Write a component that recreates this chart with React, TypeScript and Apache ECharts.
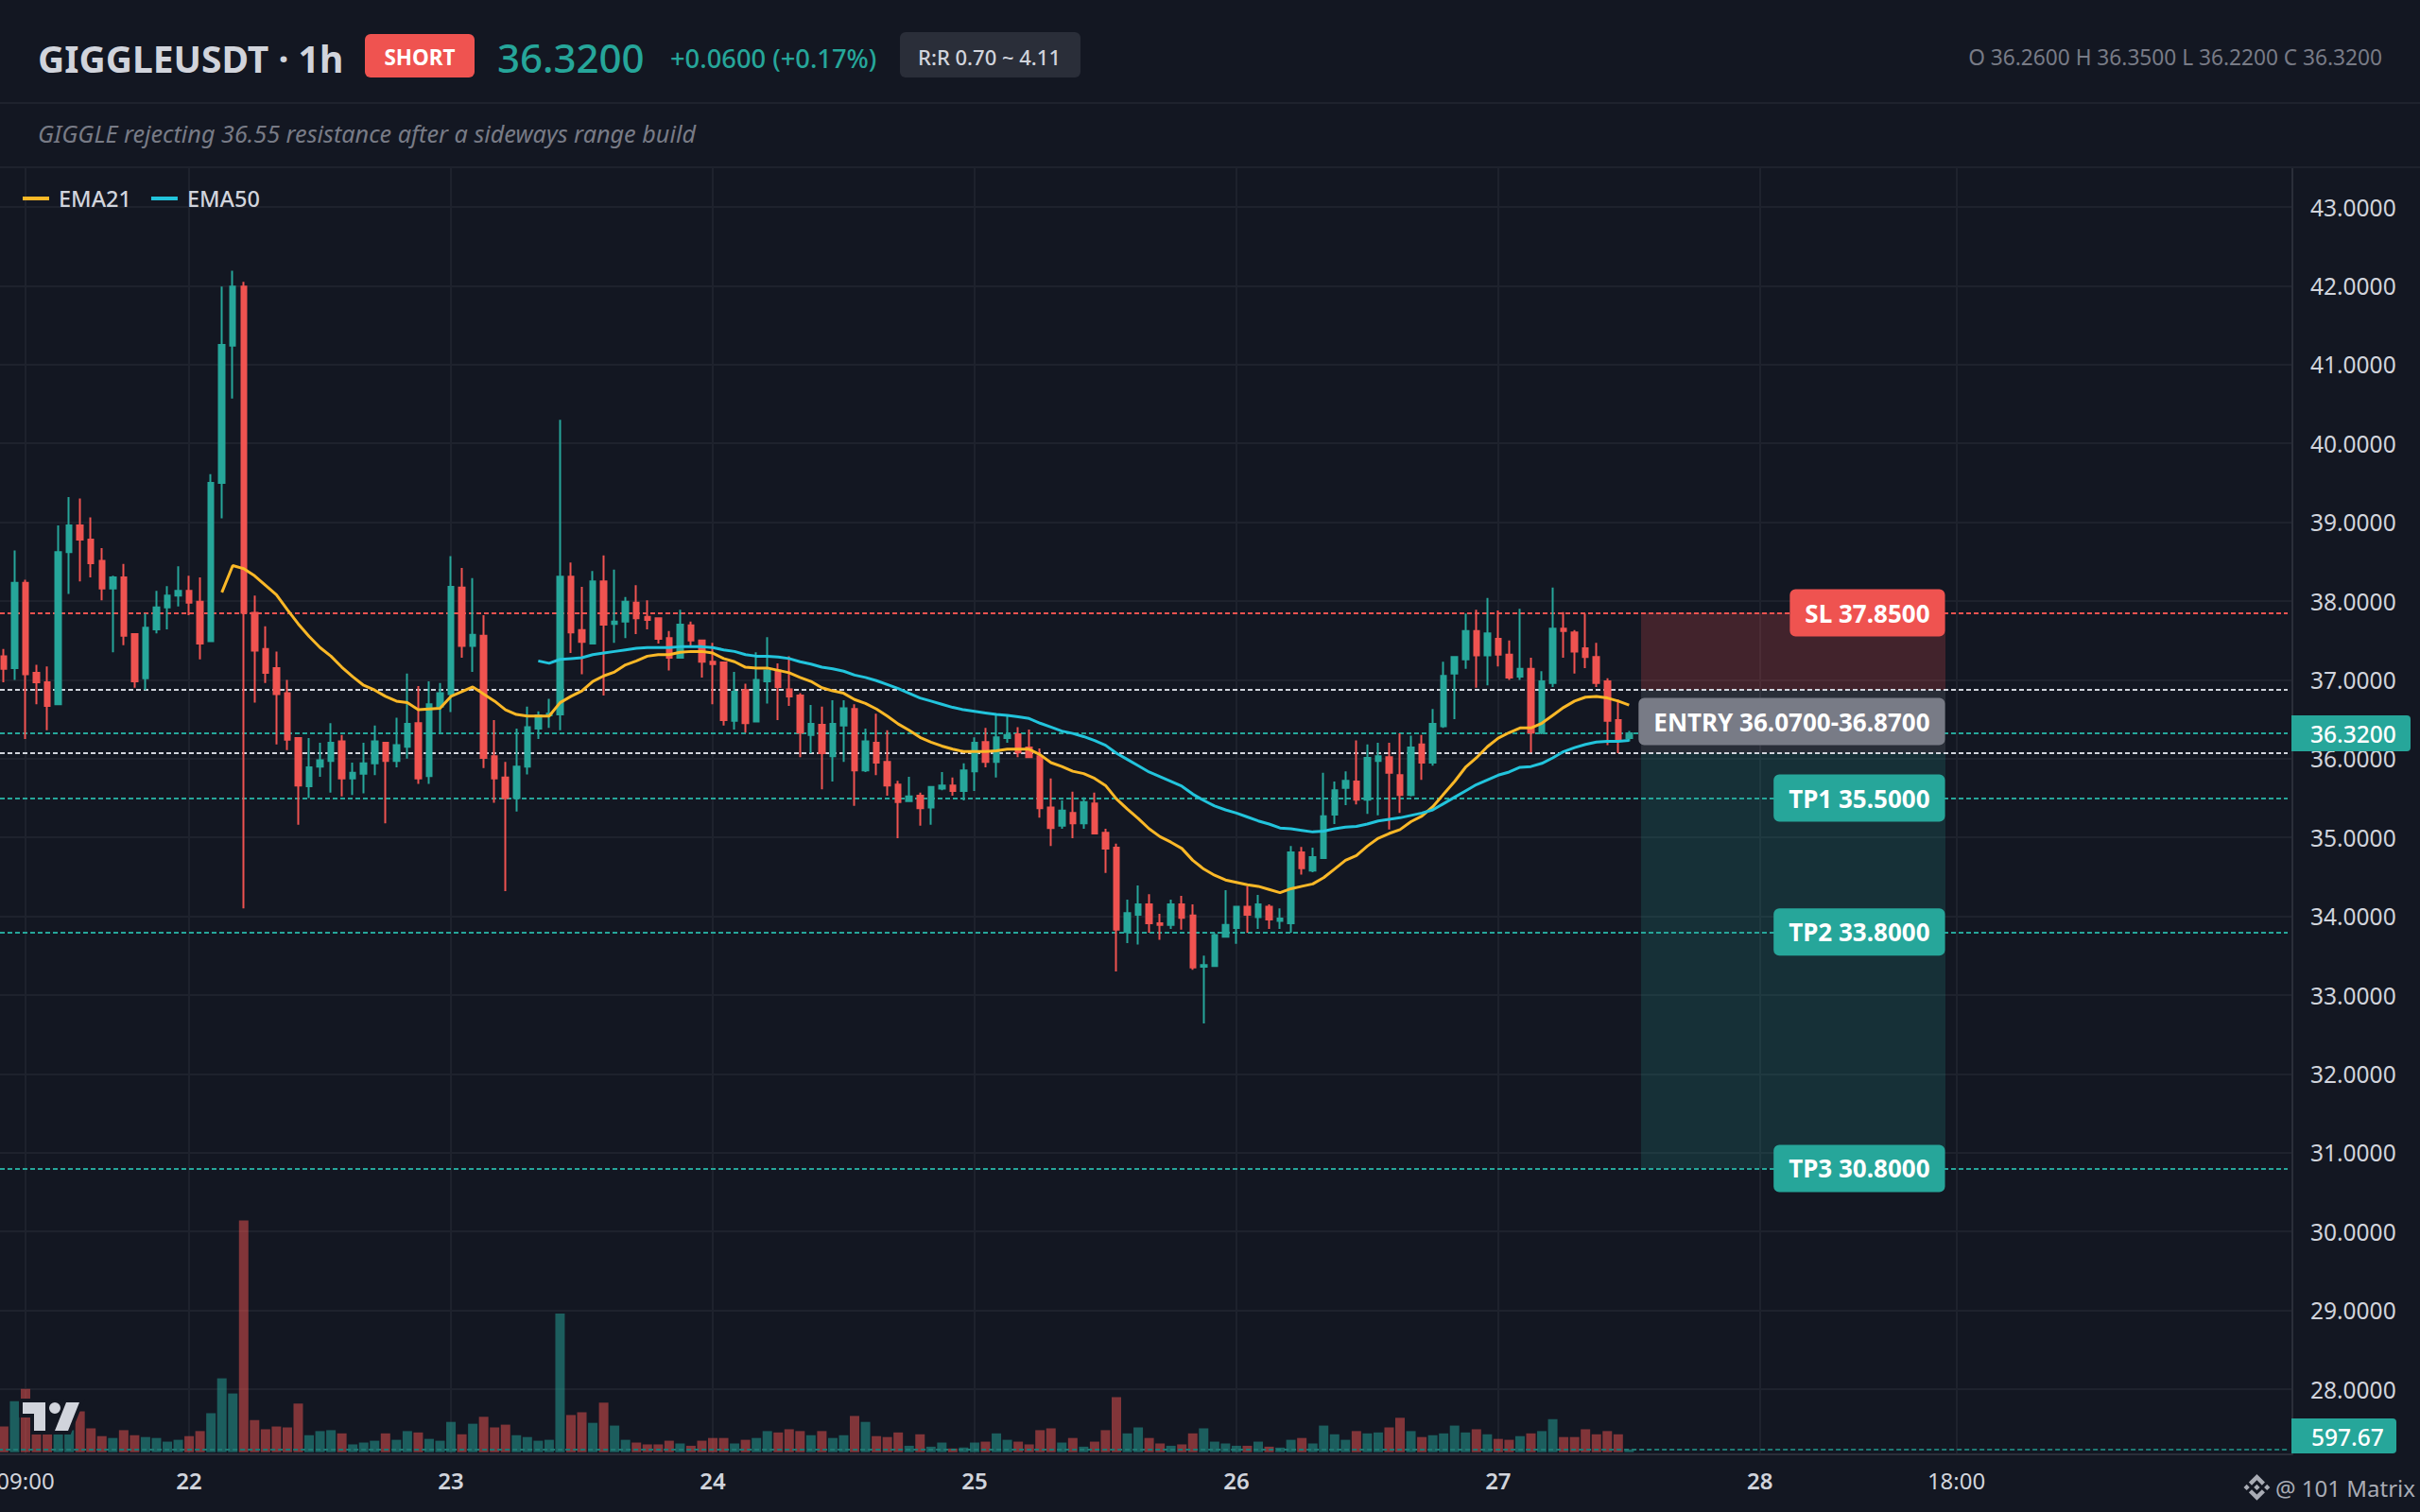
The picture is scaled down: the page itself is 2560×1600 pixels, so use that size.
import React, { useEffect, useRef } from "react";
import * as echarts from "echarts";

const opens = [
37.30,37.15,38.23,37.09,36.97,36.69,38.62,38.96,38.78,38.51,
38.16,38.30,37.58,37.02,37.64,37.92,38.07,38.13,37.99,37.49,
39.50,41.24,41.99,37.85,37.39,37.15,36.83,36.26,35.65,35.90,
35.97,36.22,35.75,35.81,35.94,36.20,35.97,36.15,36.45,35.78,
36.66,36.82,38.17,37.43,37.56,36.03,35.76,35.50,35.90,36.38,
36.55,36.56,38.31,37.63,37.46,38.25,37.71,37.74,37.98,37.80,
37.78,37.53,37.28,37.69,37.50,37.23,37.22,36.48,36.87,36.47,
36.98,37.12,36.88,36.80,36.30,36.43,36.03,36.42,36.63,35.85,
36.20,35.96,35.67,35.46,35.53,35.38,35.62,35.66,35.59,35.84,
36.21,35.96,36.26,36.31,36.14,36.03,35.38,35.15,35.31,35.18,
35.43,35.06,34.87,33.80,34.02,34.15,33.91,33.89,34.15,34.01,
33.36,33.37,33.74,33.85,34.12,33.99,34.12,33.94,33.91,34.81,
34.58,34.74,35.29,35.63,35.71,35.48,35.97,36.02,35.79,35.54,
36.18,35.95,36.41,37.08,37.26,37.62,37.31,37.52,37.32,37.04,
37.14,36.33,36.96,37.65,37.60,37.40,37.29,36.98,36.49,36.26];
const closes = [
37.14,38.23,37.07,36.97,36.67,38.62,38.96,38.78,38.48,38.16,
38.30,37.56,36.98,37.66,37.92,38.07,38.13,37.98,37.46,39.50,
41.25,41.99,37.85,37.37,37.09,36.82,36.24,35.66,35.89,35.98,
36.20,35.75,35.82,35.94,36.22,35.97,36.17,36.44,35.75,36.69,
36.83,38.18,37.43,37.57,36.01,35.75,35.50,35.90,36.40,36.55,
36.57,38.31,37.60,37.48,38.25,37.70,37.74,37.99,37.78,37.76,
37.52,37.28,37.70,37.50,37.23,37.20,36.49,36.85,36.45,37.00,
37.12,36.91,36.79,36.33,36.44,36.07,36.44,36.64,35.85,36.22,
35.95,35.66,35.45,35.52,35.37,35.64,35.66,35.59,35.85,36.20,
35.96,36.27,36.30,36.08,36.02,35.37,35.12,35.34,35.18,35.45,
35.05,34.86,33.83,34.04,34.15,33.91,33.89,34.15,33.98,33.35,
33.38,33.76,33.89,34.12,34.02,34.15,33.96,33.97,34.81,34.61,
34.75,35.27,35.60,35.72,35.48,36.01,36.03,35.82,35.54,36.14,
35.95,36.44,37.05,37.29,37.62,37.31,37.59,37.32,37.03,37.14,
36.33,36.98,37.65,37.62,37.36,37.29,36.96,36.48,36.25,36.32];
const highs = [
37.39,38.64,38.27,37.19,37.17,38.96,39.32,39.30,39.06,38.67,
38.32,38.47,37.59,37.84,38.13,38.19,38.44,38.32,38.30,39.61,
41.99,42.19,42.05,38.07,37.68,37.36,37.00,36.26,36.26,36.20,
36.45,36.30,35.95,36.20,36.42,36.20,36.52,37.08,36.92,36.98,
36.96,38.57,38.42,38.29,37.82,36.49,35.96,36.38,36.66,36.60,
36.76,40.30,38.49,38.18,38.38,38.58,38.40,38.05,38.20,38.01,
37.79,37.62,37.89,37.74,37.51,37.47,37.23,37.10,36.95,37.35,
37.54,37.21,37.30,36.83,36.68,36.66,36.74,36.74,36.69,36.38,
36.57,36.36,35.72,35.77,35.57,35.64,35.83,35.76,35.94,36.27,
36.39,36.55,36.55,36.40,36.37,36.13,35.75,35.47,35.58,35.51,
35.57,35.11,34.92,34.21,34.39,34.28,34.03,34.21,34.26,34.15,
33.50,33.79,34.33,34.13,34.38,34.27,34.15,34.10,34.89,34.88,
34.87,35.82,35.71,35.84,36.23,36.18,36.20,36.20,36.32,36.29,
36.30,36.63,37.23,37.29,37.84,37.89,38.04,37.88,37.50,37.90,
37.28,37.11,38.17,37.86,37.63,37.84,37.47,37.02,36.75,36.35];
const lows = [
36.97,37.00,36.25,36.69,36.36,36.68,38.09,38.25,38.30,38.01,
37.35,37.44,36.90,36.87,37.59,37.64,37.93,37.82,37.26,37.49,
39.05,40.57,34.10,36.71,36.96,36.18,36.11,35.16,35.50,35.77,
35.57,35.52,35.54,35.56,35.79,35.18,35.89,36.00,35.68,35.68,
36.32,36.59,37.28,37.10,35.88,35.44,34.32,35.33,35.80,36.25,
36.39,36.36,37.34,37.07,37.45,36.80,37.47,37.53,37.58,37.64,
37.46,37.12,37.28,37.42,37.03,36.69,36.42,36.37,36.33,36.47,
36.70,36.49,36.67,36.02,36.07,35.61,35.71,35.96,35.40,35.83,
35.79,35.53,34.99,35.45,35.15,35.16,35.60,35.53,35.47,35.59,
35.89,35.76,36.20,36.02,36.01,35.25,34.89,35.11,34.99,35.11,
35.05,34.55,33.30,33.66,33.64,33.79,33.70,33.84,33.83,33.32,
32.64,33.37,33.74,33.65,33.79,33.84,33.84,33.84,33.79,34.53,
34.56,34.74,35.17,35.41,35.42,35.30,35.28,35.10,35.31,35.52,
35.73,35.91,36.39,36.50,37.14,36.90,36.93,37.17,37.00,37.00,
36.08,36.31,36.91,37.28,37.08,37.15,36.91,36.17,36.07,36.22];
const volumes = [
5600,11100,13800,3900,3900,4200,4800,8900,5200,3500,
3100,4800,3700,3300,3100,2300,2700,3500,4600,8500,
16100,12800,50500,7000,5000,5600,5400,10600,3700,4600,
4800,4100,1700,2100,2500,4100,2700,4600,4300,2900,
2500,6600,3900,6200,7700,5400,6000,3700,3300,2500,
2700,30200,8100,8700,6400,10800,5800,2700,2100,1700,
1700,2500,1900,1400,2500,3100,3100,1900,2700,3100,
4600,4300,5000,4600,3700,4600,3100,3700,7900,6600,
3500,3300,4300,1400,3900,1200,2100,800,1000,2100,
2300,4100,2700,2300,1700,4800,5200,2100,3100,1200,
2300,4800,12000,4100,5400,3100,1900,1400,1700,4100,
5200,2300,1900,1400,1400,2300,1200,1000,2700,3100,
1900,5800,3900,2700,4600,4100,4300,5400,7500,4600,
3300,3700,4100,5800,4300,5000,3900,2900,2700,3500,
4100,4600,7200,3300,3300,5000,3900,4600,3900,597.67];

const ema21Start = 20;
const ema21 = [
38.11,38.45,38.41,38.32,38.20,38.08,37.89,37.71,37.55,37.41,
37.30,37.16,37.04,36.93,36.87,36.79,36.73,36.71,36.62,36.63,
36.64,36.79,36.85,36.91,36.82,36.73,36.62,36.56,36.54,36.54,
36.54,36.71,36.79,36.86,36.98,37.05,37.10,37.19,37.24,37.30,
37.32,37.32,37.35,37.36,37.36,37.34,37.27,37.23,37.16,37.15,
37.15,37.12,37.09,37.03,36.98,36.90,36.86,36.83,36.75,36.70,
36.63,36.54,36.44,36.36,36.27,36.21,36.16,36.12,36.09,36.09,
36.09,36.10,36.12,36.12,36.12,36.05,35.95,35.90,35.84,35.81,
35.75,35.66,35.49,35.36,35.24,35.11,35.01,34.94,34.86,34.71,
34.60,34.52,34.46,34.43,34.40,34.38,34.34,34.30,34.35,34.38,
34.41,34.49,34.60,34.71,34.77,34.89,34.99,35.05,35.10,35.20,
35.27,35.39,35.55,35.71,35.89,36.01,36.15,36.26,36.33,36.39,
36.39,36.45,36.55,36.65,36.73,36.78,36.79,36.77,36.73,36.68];
const ema50Start = 49;
const ema50 = [
37.24,37.21,37.26,37.27,37.28,37.32,37.34,37.36,37.38,37.40,37.41,
37.41,37.41,37.42,37.42,37.42,37.41,37.38,37.36,37.32,37.30,
37.30,37.29,37.27,37.23,37.20,37.16,37.14,37.11,37.06,37.03,
36.99,36.94,36.89,36.83,36.77,36.73,36.69,36.65,36.62,36.60,
36.58,36.56,36.55,36.53,36.51,36.45,36.40,36.35,36.32,36.28,
36.23,36.17,36.07,35.99,35.91,35.83,35.77,35.71,35.65,35.55,
35.47,35.40,35.35,35.31,35.26,35.21,35.17,35.12,35.11,35.09,
35.07,35.08,35.11,35.13,35.14,35.17,35.21,35.23,35.25,35.28,
35.31,35.35,35.43,35.51,35.59,35.67,35.73,35.79,35.83,35.89,
35.90,35.94,36.01,36.09,36.14,36.18,36.21,36.22,36.22,36.23];

const priceTicks = [28,29,30,31,32,33,34,35,36,37,38,39,40,41,42,43];
const timeTickValues = [2,17,41,65,89,113,137,161,179];
const timeTickLabels = ["09:00","22","23","24","25","26","27","28","18:00"];
const slPrice = 37.85;
const entryLow = 36.07;
const entryHigh = 36.87;
const lastPrice = 36.32;
const tp1 = 35.5;
const tp2 = 33.8;
const tp3 = 30.8;
const lastVolume = 597.67;
const zoneStart = 150.1;
const zoneEnd = 178;
const hourSlotCount = 210;

const BG = "#131722";
const UP = "#26a69a";
const DOWN = "#ef5350";
const TEXT = "#d1d4dc";
const MUTED = "#787b86";
const GRID = "#1e222d";
const AXIS = "#2a2e39";
const FONT = '"Noto Sans", sans-serif';

const PLOT_TOP = 177;
const PLOT_BOTTOM = 1538.5;
const PLOT_RIGHT = 2425;
const BAR_STEP = 11.54;
const BAR0 = 3.9;
const xMin = -BAR0 / BAR_STEP;
const xMax = (PLOT_RIGHT - BAR0) / BAR_STEP;
const xLineEnd = (2420 - BAR0) / BAR_STEP;
const pricePerPx = 1 / 83.4;
const yMax = 43 + (219 - PLOT_TOP) * pricePerPx;
const yMin = 28 - (PLOT_BOTTOM - 1470) * pricePerPx;

const TV_PATH = "M14 6H2v6h6v9h6V6Zm12 15h-7l6-15h7l-6 15Zm-7-9a3 3 0 1 0 0-6 3 3 0 0 0 0 6Z";
const BNB_PATH = "M38.73 53.2l24.59-24.58 24.6 24.6 14.3-14.31L63.32 0 24.41 38.9zM0 63.31l14.3-14.31 14.31 14.31-14.31 14.3zM38.73 73.41l24.59 24.59 24.6-24.6 14.31 14.29-38.9 38.91-38.91-38.88-.02-.02zM98 63.31l14.3-14.31 14.31 14.3-14.31 14.32zM77.83 63.3L63.32 48.78 52.59 59.51l-1.24 1.23-2.54 2.54 14.51 14.5 14.51-14.47z";
echarts.graphic.registerShape("tvLogo", echarts.graphic.extendPath(TV_PATH, {}) as any);
echarts.graphic.registerShape("bnbLogo", echarts.graphic.extendPath(BNB_PATH, {}) as any);

function hline(price: number, color: string) {
  return [
    { coord: [xMin, price], lineStyle: { color } },
    { coord: [xLineEnd, price], lineStyle: { color } },
  ];
}

function tradeLabel(name: string, price: number, color: string) {
  return {
    coord: [zoneEnd, price],
    symbol: "circle",
    symbolSize: 1,
    itemStyle: { color: "rgba(0,0,0,0)", opacity: 1 },
    label: {
      show: true,
      position: "left",
      distance: 0,
      formatter: name,
      color: "#ffffff",
      fontFamily: FONT,
      fontWeight: 700,
      fontSize: 26,
      lineHeight: 26,
      backgroundColor: color,
      borderRadius: 6,
      padding: [12, 16, 12, 16],
    },
  };
}

function txt(text: string, x: number, y: number, size: number, fill: string, weight: any = 400, extra: any = {}) {
  return {
    type: "text",
    z: 200,
    silent: true,
    style: {
      text,
      x,
      y,
      fill,
      fontFamily: FONT,
      fontSize: size,
      fontWeight: weight,
      textVerticalAlign: "middle",
      ...extra,
    },
  };
}

export default function App() {
  const ref = useRef<HTMLDivElement>(null);
  useEffect(() => {
    document.body.style.margin = "0";
    document.body.style.background = BG;
    const chart = echarts.init(ref.current!, undefined, { renderer: "svg" });
    const candleData = opens.map((o, i) => [o, closes[i], lows[i], highs[i]]);
    chart.setOption({
      animation: false,
      backgroundColor: BG,
      textStyle: { fontFamily: FONT },
      legend: {
        show: true,
        left: 24,
        top: 198,
        padding: 0,
        z: 50,
        icon: "rect",
        itemWidth: 28,
        itemHeight: 4,
        itemGap: 21,
        selectedMode: false,
        data: ["EMA21", "EMA50"],
        textStyle: { color: TEXT, fontFamily: FONT, fontSize: 23.5, fontWeight: 500, padding: [0, 0, 0, 5] },
      },
      grid: [
        {
          left: 0,
          top: PLOT_TOP,
          width: PLOT_RIGHT,
          height: PLOT_BOTTOM - PLOT_TOP,
          containLabel: false,
          outerBoundsMode: "none",
        },
        {
          left: BAR0 - BAR_STEP / 2,
          top: PLOT_TOP,
          width: BAR_STEP * hourSlotCount,
          height: PLOT_BOTTOM - PLOT_TOP,
          containLabel: false,
          outerBoundsMode: "none",
        },
      ],
      xAxis: [
        {
          type: "value",
          gridIndex: 0,
          min: xMin,
          max: xMax,
          axisLine: { show: true, onZero: false, lineStyle: { color: AXIS, width: 2 } },
          axisTick: { show: false, customValues: timeTickValues },
          splitLine: { show: true, lineStyle: { color: GRID, width: 2 } },
          axisLabel: {
            customValues: timeTickValues,
            margin: 16,
            color: TEXT,
            fontSize: 24,
            fontFamily: FONT,
            hideOverlap: false,
            formatter: (v: number) => {
              const t = timeTickLabels[timeTickValues.indexOf(v)] ?? "";
              return t.includes(":") ? t : `{d|${t}}`;
            },
            rich: { d: { fontSize: 24, fontWeight: 600, color: TEXT, fontFamily: FONT } },
          },
        },
        {
          type: "category",
          gridIndex: 1,
          show: false,
          data: Array.from({ length: hourSlotCount }, (_, i) => String(i)),
        },
      ],
      yAxis: [
        {
          type: "value",
          gridIndex: 0,
          position: "right",
          min: yMin,
          max: yMax,
          axisLine: { show: true, onZero: false, lineStyle: { color: AXIS, width: 2 } },
          axisTick: { show: false, customValues: priceTicks },
          splitLine: { show: true, lineStyle: { color: GRID, width: 2 } },
          axisLabel: {
            customValues: priceTicks,
            margin: 19,
            color: TEXT,
            fontSize: 24.5,
            fontFamily: FONT,
            formatter: (v: number) => v.toFixed(4),
          },
        },
        { type: "value", gridIndex: 1, show: false, min: -370, max: 280100, splitLine: { show: false } },
        { type: "value", gridIndex: 1, show: false, min: yMin, max: yMax, splitLine: { show: false } },
      ],
      series: [
        {
          name: "levels",
          type: "line",
          xAxisIndex: 0,
          yAxisIndex: 0,
          data: [],
          z: 1,
          silent: true,
          markArea: {
            silent: true,
            z: 1,
            data: [
              [{ coord: [zoneStart, slPrice], itemStyle: { color: "rgba(239,83,80,0.22)" } }, { coord: [zoneEnd, entryHigh] }],
              [{ coord: [zoneStart, entryHigh], itemStyle: { color: "rgba(209,212,220,0.12)" } }, { coord: [zoneEnd, entryLow] }],
              [{ coord: [zoneStart, entryLow], itemStyle: { color: "rgba(38,166,154,0.18)" } }, { coord: [zoneEnd, tp3] }],
            ],
          },
          markLine: {
            silent: true,
            symbol: "none",
            z: 1,
            label: { show: false },
            lineStyle: { type: [5, 3], width: 2 },
            data: [
              hline(slPrice, DOWN),
              hline(entryHigh, TEXT),
              hline(entryLow, TEXT),
              hline(lastPrice, UP),
              hline(tp1, UP),
              hline(tp2, UP),
              hline(tp3, UP),
            ],
          },
          markPoint: {
            silent: true,
            z: 20,
            data: [
              tradeLabel(`SL ${slPrice.toFixed(4)}`, slPrice, DOWN),
              tradeLabel(`ENTRY ${entryLow.toFixed(4)}-${entryHigh.toFixed(4)}`, (entryLow + entryHigh) / 2, MUTED),
              tradeLabel(`TP1 ${tp1.toFixed(4)}`, tp1, UP),
              tradeLabel(`TP2 ${tp2.toFixed(4)}`, tp2, UP),
              tradeLabel(`TP3 ${tp3.toFixed(4)}`, tp3, UP),
            ],
          },
        },
        {
          name: "Volume",
          type: "bar",
          xAxisIndex: 1,
          yAxisIndex: 1,
          barWidth: 10,
          z: 2,
          silent: true,
          data: volumes.map((v, i) => ({
            value: v,
            itemStyle: { color: closes[i] >= opens[i] ? "rgba(38,166,154,0.5)" : "rgba(239,83,80,0.5)" },
          })),
          markLine: {
            silent: true,
            symbol: "none",
            z: 3,
            label: { show: false },
            lineStyle: { type: [5, 3], width: 2, color: "#1f7a74" },
            data: [{ yAxis: lastVolume }],
          },
        },
        {
          name: "Price",
          type: "candlestick",
          xAxisIndex: 1,
          yAxisIndex: 2,
          z: 4,
          silent: true,
          barWidth: 6,
          data: candleData,
          itemStyle: { color: UP, color0: DOWN, borderColor: UP, borderColor0: DOWN, borderWidth: 2 },
        },
        {
          name: "EMA21",
          type: "line",
          xAxisIndex: 0,
          yAxisIndex: 0,
          z: 5,
          silent: true,
          symbol: "none",
          data: ema21.map((v, i) => [i + ema21Start, v]),
          itemStyle: { color: "#fbb827" },
          lineStyle: { color: "#fbb827", width: 3 },
        },
        {
          name: "EMA50",
          type: "line",
          xAxisIndex: 0,
          yAxisIndex: 0,
          z: 5,
          silent: true,
          symbol: "none",
          data: ema50.map((v, i) => [i + ema50Start, v]),
          itemStyle: { color: "#22c4dc" },
          lineStyle: { color: "#22c4dc", width: 3 },
        },
      ],
    });

    const lastY = chart.convertToPixel({ yAxisIndex: 0 }, lastPrice) as number;
    const rect = (x: number, y: number, w: number, h: number, fill: string, r: any = 0) => ({
      type: "rect",
      z: 150,
      silent: true,
      shape: { x, y, width: w, height: h, r },
      style: { fill },
    });
    chart.setOption({
      graphic: {
        elements: [
          rect(0, 108, 2560, 2, GRID),
          rect(0, 176, 2560, 2, GRID),
          txt("GIGGLEUSDT · 1h", 40, 61, 39, TEXT, 700),
          rect(386, 36, 116, 46, DOWN, 6),
          txt("SHORT", 444, 60, 22.5, "#ffffff", 700, { textAlign: "center" }),
          txt(lastPrice.toFixed(4), 526, 60, 42, UP, 500),
          txt("+0.0600 (+0.17%)", 709, 61, 27.3, UP, 500),
          rect(952, 34, 191, 48, AXIS, 6),
          txt("R:R 0.70 ~ 4.11", 971, 60, 22, TEXT, 500),
          txt("O 36.2600 H 36.3500 L 36.2200 C 36.3200", 2520, 60, 22.7, MUTED, 400, { textAlign: "right" }),
          txt("GIGGLE rejecting 36.55 resistance after a sideways range build", 40, 141, 25.2, MUTED, 400, { fontStyle: "italic" }),
          rect(2424, lastY - 19, 126, 38, UP, [0, 4, 4, 0]),
          txt(lastPrice.toFixed(4), 2444, lastY, 24.5, "#ffffff", 500),
          rect(2424, 1501, 111, 37, UP, [0, 4, 4, 0]),
          txt(lastVolume.toFixed(2), 2445, 1520, 24.5, "#ffffff", 500),
          {
            type: "tvLogo",
            z: 160,
            silent: true,
            x: 20,
            y: 1472,
            scaleX: 2,
            scaleY: 2,
            style: { fill: TEXT, stroke: BG, lineWidth: 4, strokeFirst: true, paintOrder: "stroke" },
          },
          {
            type: "bnbLogo",
            z: 160,
            silent: true,
            x: 2373.5,
            y: 1560,
            scaleX: 0.22,
            scaleY: 0.22,
            style: { fill: "#a9acb5" },
          },
          txt("@ 101 Matrix", 2407, 1574, 24, "#a9acb5", 400),
        ],
      },
    });
    return () => chart.dispose();
  }, []);
  return <div ref={ref} style={{ position: "absolute", left: 0, top: 0, width: 2560, height: 1600 }} />;
}
